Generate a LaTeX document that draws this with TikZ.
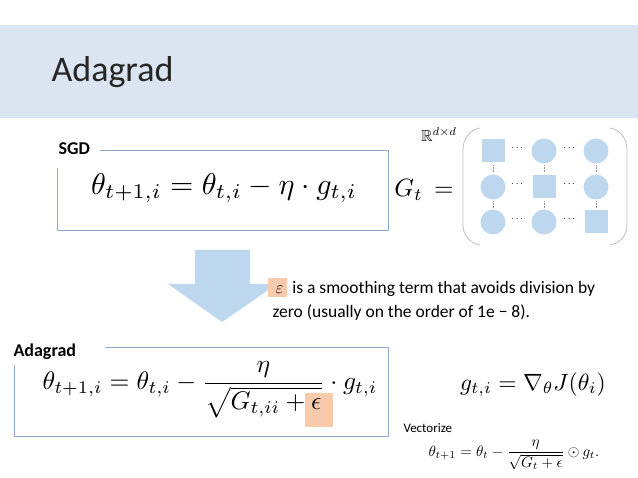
\documentclass[tikz,border=0pt]{standalone}
\usepackage{amsmath,amssymb}
\usepackage{fontspec}
\setmainfont{Carlito}
\definecolor{band}{HTML}{DAE5F1}
\definecolor{cell}{HTML}{BDD7EE}
\definecolor{frame}{HTML}{8FA9C8}
\definecolor{peach}{HTML}{F8CBAD}
\tikzset{sq/.style={fill=cell,minimum size=23pt,inner sep=0pt},
 ci/.style={sq,circle,minimum size=25pt},
 dots/.style={font=\fontsize{10}{10}\selectfont,inner sep=0pt},
 vd/.style={densely dotted,black!45,line width=0.6pt},
 fr/.style={draw=frame,line width=0.8pt}}
\begin{document}
\begin{tikzpicture}[x=1pt,y=-1pt]
\useasboundingbox (0,0) rectangle (638,478);
\fill[band] (0,25) rectangle (638,118);
\node[anchor=base west,font=\fontsize{36}{36}\selectfont,text=black!85] (title) at (48,82) {Adagrad};
% SGD box
\draw[fr] (100,150) -- (388,150) -- (388,230) -- (57,230) -- (57,168);
\node[anchor=base west,font=\bfseries\fontsize{18}{18}\selectfont] (sgd) at (55,155) {SGD};
\node (f1) at (224,188) {\scalebox{3.0}{$\theta_{t+1,i}=\theta_{t,i}-\eta\cdot g_{t,i}$}};
% matrix
\node (gt) at (424,190) {\scalebox{2.5}{$G_t\,=$}};
\node (rd) at (439,135) {\scalebox{1.6}{$\mathbb{R}^{d\times d}$}};
\draw[black!25,line width=0.8pt] (480,128) to[out=190,in=90] (463,150) -- (463,225) to[out=-90,in=170] (480,245);
\draw[black!25,line width=0.8pt] (610,128) to[out=-10,in=90] (627,150) -- (627,225) to[out=-90,in=10] (610,245);
\node[sq] (a11) at (493,151) {}; \node[ci] (a12) at (544,151) {}; \node[ci] (a13) at (596,151) {};
\node[ci] (a21) at (493,187) {}; \node[sq] (a22) at (544,187) {}; \node[ci] (a23) at (596,187) {};
\node[ci] (a31) at (493,222) {}; \node[ci] (a32) at (544,222) {}; \node[sq] (a33) at (596,222) {};
\foreach \r in {1,2,3}{\node[dots] at (518,\r*35.5+113) {$\cdots$};\node[dots] at (570,\r*35.5+113) {$\cdots$};}
\foreach \x in {493,544,596}{\draw[vd] (\x,165) -- (\x,173); \draw[vd] (\x,201) -- (\x,209);}
% arrow
\fill[cell] (195,250) -- (250,250) -- (250,284) -- (277,284) -- (222,322) -- (168,284) -- (195,284) -- cycle;
% text
\fill[peach] (268,278) rectangle (287,297);
\node[anchor=base west,font=\fontsize{17.5}{20}\selectfont] (txt) at (272,294) {$\varepsilon$\; is a smoothing term that avoids division by};
\node[anchor=base west,font=\fontsize{17.5}{20}\selectfont] (txt2) at (269,318) {zero (usually on the order of 1e − 8).};
% Adagrad box
\draw[fr] (105,347) -- (388,347) -- (388,436) -- (14,436) -- (14,365);
\node[anchor=base west,font=\bfseries\fontsize{18}{18}\selectfont] (ada) at (10,357) {Adagrad};
\fill[peach] (305,393) rectangle (333,427);
\node (f2) at (210,390) {\scalebox{2.55}{$\theta_{t+1,i}=\theta_{t,i}-\dfrac{\eta}{\sqrt{G_{t,ii}+\epsilon}}\cdot g_{t,i}$}};
\node (f3) at (533,385) {\scalebox{2.35}{$g_{t,i}=\nabla_\theta J(\theta_i)$}};
\node[anchor=west,font=\fontsize{13}{13}\selectfont] (vec) at (400,428) {Vectorize};
\node (f4) at (514,455) {\scalebox{1.5}{$\theta_{t+1}=\theta_t-\dfrac{\eta}{\sqrt{G_t+\epsilon}}\odot g_t.$}};
\end{tikzpicture}
\end{document}
